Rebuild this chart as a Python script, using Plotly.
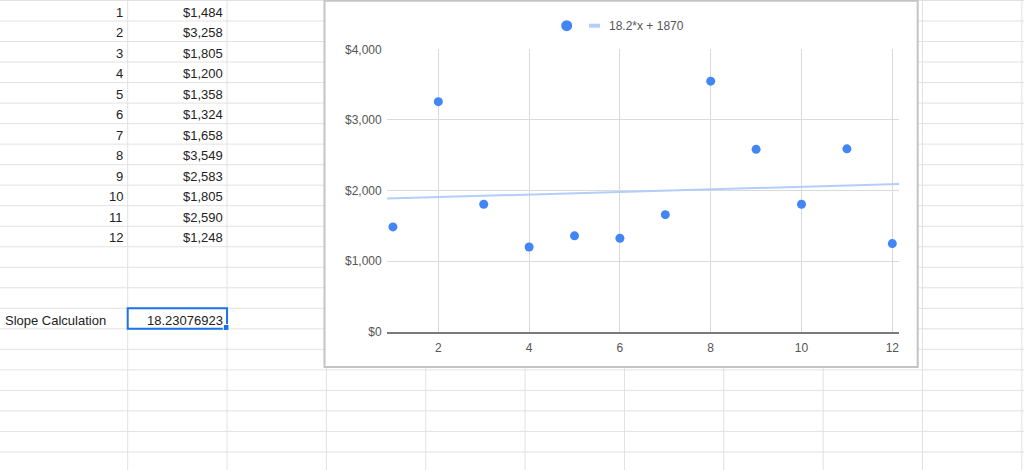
import numpy as np
import plotly.graph_objects as go

# sheet data
months = [1, 2, 3, 4, 5, 6, 7, 8, 9, 10, 11, 12]
sales = [1484, 3258, 1805, 1200, 1358, 1324, 1658, 3549, 2583, 1805, 2590, 1248]
slope_label = "Slope Calculation"
y_ticks = [0, 1000, 2000, 3000, 4000]
y_tick_text = ["$0", "$1,000", "$2,000", "$3,000", "$4,000"]
x_ticks = [2, 4, 6, 8, 10, 12]

W, H = 1024, 470
FONT = "Liberation Sans, Arial, sans-serif"
BLUE = "#4285f4"
TREND = "#b3cefa"


def px(x):
    return x / W


def py(y):
    return 1 - y / H


# linear fit, same as the sheet's SLOPE() and the chart trendline
slope, intercept = np.polyfit(months, sales, 1)
x_rng = [0.863, 12.154]
trend_x = np.array(x_rng)
trend_y = slope * trend_x + intercept

fig = go.Figure()
fig.add_trace(go.Scatter(x=trend_x, y=trend_y, mode="lines",
                         line=dict(color=TREND, width=2), hoverinfo="skip"))
fig.add_trace(go.Scatter(x=months, y=sales, mode="markers",
                         marker=dict(color=BLUE, size=9)))

shapes = []
annotations = []

# spreadsheet grid
row_h, row0 = 20.52, 0.5
col_lines = [127.7 + 99.35 * i for i in range(10)]
for k in range(23):
    y = row0 + row_h * k
    shapes.append(dict(type="line", xref="paper", yref="paper", layer="below",
                       x0=0, x1=1, y0=py(y), y1=py(y),
                       line=dict(color="#e2e2e2", width=1)))
for x in col_lines:
    shapes.append(dict(type="line", xref="paper", yref="paper", layer="below",
                       x0=px(x), x1=px(x), y0=0, y1=1,
                       line=dict(color="#e2e2e2", width=1)))

# chart box on top of the grid
shapes.append(dict(type="rect", xref="paper", yref="paper", layer="below",
                   x0=px(324.5), x1=px(917.7), y0=py(367), y1=py(0.8),
                   fillcolor="white", line=dict(color="#c4c4c4", width=2)))


def row_mid(r):
    return row0 + row_h * (r - 0.5) + 1.5


cell_font = dict(family=FONT, size=13, color="#222")
for i, (m, s) in enumerate(zip(months, sales)):
    annotations.append(dict(xref="paper", yref="paper", x=px(124.5), y=py(row_mid(i + 1)),
                            text=str(m), showarrow=False, xanchor="right",
                            yanchor="middle", font=cell_font))
    annotations.append(dict(xref="paper", yref="paper", x=px(224.5), y=py(row_mid(i + 1)),
                            text="${:,}".format(s), showarrow=False, xanchor="right",
                            yanchor="middle", font=cell_font))

annotations.append(dict(xref="paper", yref="paper", x=px(3), y=py(row_mid(16)),
                        text=slope_label, showarrow=False, xanchor="left",
                        yanchor="middle", font=cell_font))
annotations.append(dict(xref="paper", yref="paper", x=px(224.5), y=py(row_mid(16)),
                        text="{:.8f}".format(slope), showarrow=False, xanchor="right",
                        yanchor="middle", font=cell_font))

# selected cell
sel_top = row0 + row_h * 15
shapes.append(dict(type="rect", xref="paper", yref="paper",
                   x0=px(col_lines[0]), x1=px(col_lines[1]),
                   y0=py(sel_top + row_h), y1=py(sel_top),
                   line=dict(color="#1a73e8", width=2)))
shapes.append(dict(type="rect", xref="paper", yref="paper",
                   x0=px(223.3), x1=px(229), y0=py(330.5), y1=py(324.5),
                   fillcolor="#1a73e8", line=dict(color="white", width=1)))

# legend drawn by hand (sheets style)
shapes.append(dict(type="circle", xref="paper", yref="paper",
                   x0=px(561.2), x1=px(572.2), y0=py(31.2), y1=py(20.2),
                   fillcolor=BLUE, line=dict(width=0)))
shapes.append(dict(type="line", xref="paper", yref="paper",
                   x0=px(589), x1=px(600), y0=py(25.7), y1=py(25.7),
                   line=dict(color=TREND, width=4)))
annotations.append(dict(xref="paper", yref="paper", x=px(607), y=py(25.7),
                        text="{:.1f}*x + {:.0f}".format(slope, intercept),
                        showarrow=False, xanchor="left", yanchor="middle",
                        font=dict(family=FONT, size=12, color="#555")))

fig.update_layout(
    width=W, height=H,
    margin=dict(l=0, r=0, t=0, b=0, pad=0, autoexpand=False),
    paper_bgcolor="white",
    plot_bgcolor="rgba(0,0,0,0)",
    showlegend=False,
    shapes=shapes,
    annotations=annotations,
    font=dict(family=FONT, size=12, color="#555"),
    xaxis=dict(domain=[px(386.7), px(899.3)], range=x_rng, automargin=False,
               tickvals=x_ticks, showgrid=True, gridcolor="#dadada", gridwidth=1,
               zeroline=False, showline=True, linecolor="#7a7a7a", linewidth=2,
               ticks="", ticklabelstandoff=4),
    yaxis=dict(domain=[py(331.7), py(49.3)], range=[0, 4000], automargin=False,
               tickvals=y_ticks, ticktext=y_tick_text,
               showgrid=True, gridcolor="#dadada", gridwidth=1,
               zeroline=False, ticks="", ticklabelstandoff=4),
)

# pin the figure to the window's corner, no page margin
pin = ("var d=document.getElementById('{plot_id}');"
       "document.body.style.margin='0';document.body.style.overflow='hidden';"
       "d.style.position='fixed';d.style.left='0';d.style.top='0';")
fig.write_html("out.html", post_script=pin, config={"displayModeBar": False})
